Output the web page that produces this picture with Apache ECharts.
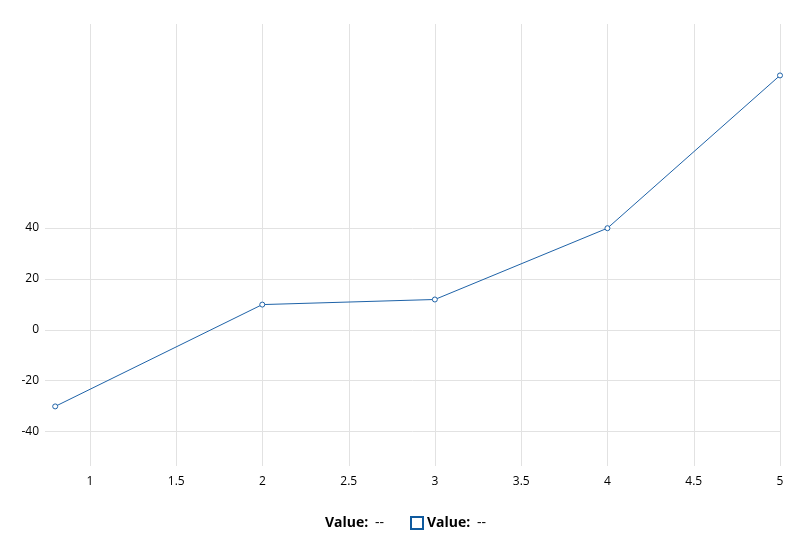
<!DOCTYPE html>
<html>
<head>
<meta charset="utf-8">
<script src="https://cdn.jsdelivr.net/npm/echarts@6/dist/echarts.min.js"></script>
<style>
  html, body { margin: 0; padding: 0; background: #fff; }
  #chart { width: 800px; height: 539px; }
</style>
</head>
<body>
<div id="chart"></div>
<script>
'use strict';
// data
var xValues = [0.8, 2, 3, 4, 5];
var yValues = [-30, 10, 12, 40, 100];
var yTicks = [-40, -20, 0, 20, 40];
var xTicks = [1, 1.5, 2, 2.5, 3, 3.5, 4, 4.5, 5];

var lineColor = '#1f63a8';
var gridColor = '#e2e2e2';
var font = '"Open Sans", "Noto Sans", sans-serif';

var points = xValues.map(function (x, i) { return [x, yValues[i]]; });

var myChart = echarts.init(document.getElementById('chart'));

var option = {
    animation: false,
    backgroundColor: '#fff',
    textStyle: { fontFamily: font },
    grid: [
        // plot for the series
        { left: 45, right: 20, top: 24, bottom: 73 },
        // horizontal grid lines + y labels (only -40..40)
        { left: 45, right: 20, top: 228, bottom: 539 - 431.5 },
        // vertical grid lines + x labels (1..5)
        { left: 90, right: 20, top: 24, bottom: 73 }
    ],
    xAxis: [
        { gridIndex: 0, type: 'value', min: 0.741, max: 5, show: false },
        { gridIndex: 1, type: 'value', min: 0, max: 1, show: false },
        {
            gridIndex: 2, type: 'value',
            min: xTicks[0], max: xTicks[xTicks.length - 1], interval: 0.5,
            axisLine: { show: false },
            axisTick: { show: false },
            axisLabel: { color: '#000', fontSize: 12, margin: 10, fontFamily: font },
            splitLine: { show: true, lineStyle: { color: gridColor, width: 1 } }
        }
    ],
    yAxis: [
        { gridIndex: 0, type: 'value', min: -53.4, max: 120.2, show: false },
        {
            gridIndex: 1, type: 'value',
            min: yTicks[0], max: yTicks[yTicks.length - 1], interval: 20,
            axisLine: { show: false },
            axisTick: { show: false },
            axisLabel: { color: '#000', fontSize: 12, margin: 6, fontFamily: font },
            splitLine: { show: true, lineStyle: { color: gridColor, width: 1 } }
        },
        { gridIndex: 2, type: 'value', min: 0, max: 1, show: false }
    ],
    series: [{
        name: 'Value',
        type: 'line',
        xAxisIndex: 0,
        yAxisIndex: 0,
        data: points,
        symbol: 'circle',
        symbolSize: 5,
        itemStyle: { color: '#fff', borderColor: lineColor, borderWidth: 1 },
        lineStyle: { color: lineColor, width: 1 },
        z: 5
    }],
    graphic: [{
        type: 'group',
        left: 325,
        top: 516,
        children: [
            {
                type: 'text', x: 0, y: 0,
                style: {
                    text: '{b|Value:}  {n|--}',
                    rich: {
                        b: { fontWeight: 'bold', fontSize: 14, fill: '#000', fontFamily: font },
                        n: { fontSize: 14, fill: '#000', fontFamily: font }
                    }
                }
            },
            {
                type: 'rect', x: 86, y: 1,
                shape: { width: 12, height: 12 },
                style: { fill: '#fff', stroke: '#0f5a9e', lineWidth: 2 }
            },
            {
                type: 'text', x: 102, y: 0,
                style: {
                    text: '{b|Value:}  {n|--}',
                    rich: {
                        b: { fontWeight: 'bold', fontSize: 14, fill: '#000', fontFamily: font },
                        n: { fontSize: 14, fill: '#000', fontFamily: font }
                    }
                }
            }
        ]
    }]
};

myChart.setOption(option);
</script>
</body>
</html>
